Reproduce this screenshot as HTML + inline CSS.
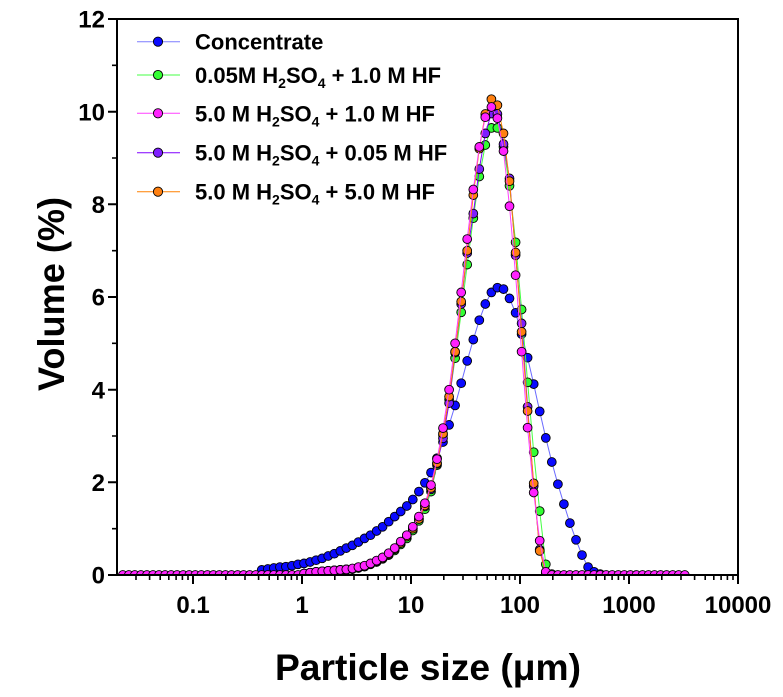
<!DOCTYPE html>
<html><head><meta charset="utf-8">
<style>
html,body{margin:0;padding:0;background:#fff;}
svg{display:block;}
text{font-family:"Liberation Sans",Arial,sans-serif;font-weight:bold;fill:#000;}
</style></head>
<body>
<svg width="783" height="697" viewBox="0 0 783 697" xmlns="http://www.w3.org/2000/svg">
<defs><clipPath id="c"><rect x="117" y="19" width="621" height="556"/></clipPath></defs>
<rect x="0" y="0" width="783" height="697" fill="#fff"/>
<g clip-path="url(#c)">
<!-- Concentrate -->
<polyline fill="none" stroke="#6a6aff" stroke-width="1" points="122.8,575 255.7,575 261.7,569.9 267.8,569.0 273.8,568.0 279.9,567.1 285.9,566.7 292.0,565.7 298.0,564.3 304.0,563.4 310.1,562.0 316.1,560.2 322.2,558.3 328.2,556.0 334.3,553.7 340.3,550.9 346.3,548.1 352.4,545.3 358.4,542.1 364.5,538.4 370.5,535.2 376.6,531.0 382.6,526.8 388.7,521.7 394.7,516.6 400.7,511.5 406.8,506.0 412.8,499.5 418.9,491.6 424.9,482.8 431.0,472.6 437.0,458.2 443.0,442.0 449.1,424.9 455.1,405.4 461.2,383.2 467.2,360.9 473.3,339.6 479.3,320.2 485.3,304.0 491.4,292.4 497.4,287.7 503.5,289.1 509.5,298.4 515.6,312.8 521.6,334.1 527.6,357.7 533.7,384.1 539.7,411.4 545.8,437.9 551.8,462.0 557.9,484.2 563.9,504.1 569.9,523.1 576.0,539.8 582.0,555.1 588.1,567.1 594.1,571.8 600.2,574.1 606.2,575 684.8,575"/>
<g fill="#0a0aff" stroke="#000" stroke-width="0.9">
<circle cx="261.7" cy="569.9" r="4.4"/><circle cx="267.8" cy="569.0" r="4.4"/><circle cx="273.8" cy="568.0" r="4.4"/><circle cx="279.9" cy="567.1" r="4.4"/><circle cx="285.9" cy="566.7" r="4.4"/><circle cx="292.0" cy="565.7" r="4.4"/><circle cx="298.0" cy="564.3" r="4.4"/><circle cx="304.0" cy="563.4" r="4.4"/><circle cx="310.1" cy="562.0" r="4.4"/><circle cx="316.1" cy="560.2" r="4.4"/><circle cx="322.2" cy="558.3" r="4.4"/><circle cx="328.2" cy="556.0" r="4.4"/><circle cx="334.3" cy="553.7" r="4.4"/><circle cx="340.3" cy="550.9" r="4.4"/><circle cx="346.3" cy="548.1" r="4.4"/><circle cx="352.4" cy="545.3" r="4.4"/><circle cx="358.4" cy="542.1" r="4.4"/><circle cx="364.5" cy="538.4" r="4.4"/><circle cx="370.5" cy="535.2" r="4.4"/><circle cx="376.6" cy="531.0" r="4.4"/><circle cx="382.6" cy="526.8" r="4.4"/><circle cx="388.7" cy="521.7" r="4.4"/><circle cx="394.7" cy="516.6" r="4.4"/><circle cx="400.7" cy="511.5" r="4.4"/><circle cx="406.8" cy="506.0" r="4.4"/><circle cx="412.8" cy="499.5" r="4.4"/><circle cx="418.9" cy="491.6" r="4.4"/><circle cx="424.9" cy="482.8" r="4.4"/><circle cx="431.0" cy="472.6" r="4.4"/><circle cx="437.0" cy="458.2" r="4.4"/><circle cx="443.0" cy="442.0" r="4.4"/><circle cx="449.1" cy="424.9" r="4.4"/><circle cx="455.1" cy="405.4" r="4.4"/><circle cx="461.2" cy="383.2" r="4.4"/><circle cx="467.2" cy="360.9" r="4.4"/><circle cx="473.3" cy="339.6" r="4.4"/><circle cx="479.3" cy="320.2" r="4.4"/><circle cx="485.3" cy="304.0" r="4.4"/><circle cx="491.4" cy="292.4" r="4.4"/><circle cx="497.4" cy="287.7" r="4.4"/><circle cx="503.5" cy="289.1" r="4.4"/><circle cx="509.5" cy="298.4" r="4.4"/><circle cx="515.6" cy="312.8" r="4.4"/><circle cx="521.6" cy="334.1" r="4.4"/><circle cx="527.6" cy="357.7" r="4.4"/><circle cx="533.7" cy="384.1" r="4.4"/><circle cx="539.7" cy="411.4" r="4.4"/><circle cx="545.8" cy="437.9" r="4.4"/><circle cx="551.8" cy="462.0" r="4.4"/><circle cx="557.9" cy="484.2" r="4.4"/><circle cx="563.9" cy="504.1" r="4.4"/><circle cx="569.9" cy="523.1" r="4.4"/><circle cx="576.0" cy="539.8" r="4.4"/><circle cx="582.0" cy="555.1" r="4.4"/><circle cx="588.1" cy="567.1" r="4.4"/><circle cx="594.1" cy="571.8" r="4.4"/><circle cx="600.2" cy="574.1" r="4.4"/>
</g>
<!-- 0.05M H2SO4 + 1.0 M HF (green) -->
<polyline fill="none" stroke="#44ff44" stroke-width="1" points="122.8,575 298.0,575 304.0,573.6 310.1,573.1 316.1,572.2 322.2,571.8 328.2,571.3 334.3,570.8 340.3,570.4 346.3,569.9 352.4,569.0 358.4,568.0 364.5,566.7 370.5,564.3 376.6,562.0 382.6,558.8 388.7,555.1 394.7,550.4 400.7,544.4 406.8,538.4 412.8,530.5 418.9,520.8 424.9,509.2 431.0,491.6 437.0,465.2 443.0,435.1 449.1,399.4 455.1,358.2 461.2,312.3 467.2,264.6 473.3,218.2 479.3,176.5 485.3,145.0 491.4,127.9 497.4,127.9 503.5,146.9 509.5,185.8 515.6,242.3 521.6,309.5 527.6,382.3 533.7,452.2 539.7,511.1 545.8,564.3 551.8,574.1 557.9,575 684.8,575"/>
<g fill="#33ff33" stroke="#000" stroke-width="0.9">
<circle cx="304.0" cy="573.6" r="4.4"/><circle cx="310.1" cy="573.1" r="4.4"/><circle cx="316.1" cy="572.2" r="4.4"/><circle cx="322.2" cy="571.8" r="4.4"/><circle cx="328.2" cy="571.3" r="4.4"/><circle cx="334.3" cy="570.8" r="4.4"/><circle cx="340.3" cy="570.4" r="4.4"/><circle cx="346.3" cy="569.9" r="4.4"/><circle cx="352.4" cy="569.0" r="4.4"/><circle cx="358.4" cy="568.0" r="4.4"/><circle cx="364.5" cy="566.7" r="4.4"/><circle cx="370.5" cy="564.3" r="4.4"/><circle cx="376.6" cy="562.0" r="4.4"/><circle cx="382.6" cy="558.8" r="4.4"/><circle cx="388.7" cy="555.1" r="4.4"/><circle cx="394.7" cy="550.4" r="4.4"/><circle cx="400.7" cy="544.4" r="4.4"/><circle cx="406.8" cy="538.4" r="4.4"/><circle cx="412.8" cy="530.5" r="4.4"/><circle cx="418.9" cy="520.8" r="4.4"/><circle cx="424.9" cy="509.2" r="4.4"/><circle cx="431.0" cy="491.6" r="4.4"/><circle cx="437.0" cy="465.2" r="4.4"/><circle cx="443.0" cy="435.1" r="4.4"/><circle cx="449.1" cy="399.4" r="4.4"/><circle cx="455.1" cy="358.2" r="4.4"/><circle cx="461.2" cy="312.3" r="4.4"/><circle cx="467.2" cy="264.6" r="4.4"/><circle cx="473.3" cy="218.2" r="4.4"/><circle cx="479.3" cy="176.5" r="4.4"/><circle cx="485.3" cy="145.0" r="4.4"/><circle cx="491.4" cy="127.9" r="4.4"/><circle cx="497.4" cy="127.9" r="4.4"/><circle cx="503.5" cy="146.9" r="4.4"/><circle cx="509.5" cy="185.8" r="4.4"/><circle cx="515.6" cy="242.3" r="4.4"/><circle cx="521.6" cy="309.5" r="4.4"/><circle cx="527.6" cy="382.3" r="4.4"/><circle cx="533.7" cy="452.2" r="4.4"/><circle cx="539.7" cy="511.1" r="4.4"/><circle cx="545.8" cy="564.3" r="4.4"/><circle cx="551.8" cy="574.1" r="4.4"/>
</g>
<!-- 5.0 M H2SO4 + 0.05 M HF (purple) -->
<polyline fill="none" stroke="#8000ff" stroke-width="1" points="122.8,575 298.0,575 304.0,573.6 310.1,572.7 316.1,571.8 322.2,571.3 328.2,570.8 334.3,570.4 340.3,569.9 346.3,569.4 352.4,569.0 358.4,567.6 364.5,566.2 370.5,563.9 376.6,561.1 382.6,558.3 388.7,554.2 394.7,549.1 400.7,543.0 406.8,536.5 412.8,528.7 418.9,518.9 424.9,506.4 431.0,489.3 437.0,463.8 443.0,438.3 449.1,403.1 455.1,352.6 461.2,304.0 467.2,253.0 473.3,213.6 479.3,169.1 485.3,133.4 491.4,113.5 497.4,114.0 503.5,144.1 509.5,178.4 515.6,255.3 521.6,323.4 527.6,406.8 533.7,486.0 539.7,549.5 545.8,572.7 551.8,575 684.8,575"/>
<g fill="#7f1fff" stroke="#000" stroke-width="0.9">
<circle cx="304.0" cy="573.6" r="4.4"/><circle cx="310.1" cy="572.7" r="4.4"/><circle cx="316.1" cy="571.8" r="4.4"/><circle cx="322.2" cy="571.3" r="4.4"/><circle cx="328.2" cy="570.8" r="4.4"/><circle cx="334.3" cy="570.4" r="4.4"/><circle cx="340.3" cy="569.9" r="4.4"/><circle cx="346.3" cy="569.4" r="4.4"/><circle cx="352.4" cy="569.0" r="4.4"/><circle cx="358.4" cy="567.6" r="4.4"/><circle cx="364.5" cy="566.2" r="4.4"/><circle cx="370.5" cy="563.9" r="4.4"/><circle cx="376.6" cy="561.1" r="4.4"/><circle cx="382.6" cy="558.3" r="4.4"/><circle cx="388.7" cy="554.2" r="4.4"/><circle cx="394.7" cy="549.1" r="4.4"/><circle cx="400.7" cy="543.0" r="4.4"/><circle cx="406.8" cy="536.5" r="4.4"/><circle cx="412.8" cy="528.7" r="4.4"/><circle cx="418.9" cy="518.9" r="4.4"/><circle cx="424.9" cy="506.4" r="4.4"/><circle cx="431.0" cy="489.3" r="4.4"/><circle cx="437.0" cy="463.8" r="4.4"/><circle cx="443.0" cy="438.3" r="4.4"/><circle cx="449.1" cy="403.1" r="4.4"/><circle cx="455.1" cy="352.6" r="4.4"/><circle cx="461.2" cy="304.0" r="4.4"/><circle cx="467.2" cy="253.0" r="4.4"/><circle cx="473.3" cy="213.6" r="4.4"/><circle cx="479.3" cy="169.1" r="4.4"/><circle cx="485.3" cy="133.4" r="4.4"/><circle cx="491.4" cy="113.5" r="4.4"/><circle cx="497.4" cy="114.0" r="4.4"/><circle cx="503.5" cy="144.1" r="4.4"/><circle cx="509.5" cy="178.4" r="4.4"/><circle cx="515.6" cy="255.3" r="4.4"/><circle cx="521.6" cy="323.4" r="4.4"/><circle cx="527.6" cy="406.8" r="4.4"/><circle cx="533.7" cy="486.0" r="4.4"/><circle cx="539.7" cy="549.5" r="4.4"/><circle cx="545.8" cy="572.7" r="4.4"/>
</g>
<!-- 5.0 M H2SO4 + 5.0 M HF (orange) -->
<polyline fill="none" stroke="#ff8000" stroke-width="1" points="122.8,575 298.0,575 304.0,573.6 310.1,572.7 316.1,571.8 322.2,571.3 328.2,570.8 334.3,570.4 340.3,569.9 346.3,569.4 352.4,569.0 358.4,567.6 364.5,566.2 370.5,563.9 376.6,561.1 382.6,558.3 388.7,554.2 394.7,549.1 400.7,543.0 406.8,536.5 412.8,528.7 418.9,518.9 424.9,505.5 431.0,487.9 437.0,462.9 443.0,433.7 449.1,396.6 455.1,351.7 461.2,301.6 467.2,250.7 473.3,195.1 479.3,148.7 485.3,114.0 491.4,99.2 497.4,105.2 503.5,133.4 509.5,181.2 515.6,252.5 521.6,331.8 527.6,411.0 533.7,483.3 539.7,550.9 545.8,572.7 551.8,575 684.8,575"/>
<g fill="#ff8010" stroke="#000" stroke-width="0.9">
<circle cx="304.0" cy="573.6" r="4.4"/><circle cx="310.1" cy="572.7" r="4.4"/><circle cx="316.1" cy="571.8" r="4.4"/><circle cx="322.2" cy="571.3" r="4.4"/><circle cx="328.2" cy="570.8" r="4.4"/><circle cx="334.3" cy="570.4" r="4.4"/><circle cx="340.3" cy="569.9" r="4.4"/><circle cx="346.3" cy="569.4" r="4.4"/><circle cx="352.4" cy="569.0" r="4.4"/><circle cx="358.4" cy="567.6" r="4.4"/><circle cx="364.5" cy="566.2" r="4.4"/><circle cx="370.5" cy="563.9" r="4.4"/><circle cx="376.6" cy="561.1" r="4.4"/><circle cx="382.6" cy="558.3" r="4.4"/><circle cx="388.7" cy="554.2" r="4.4"/><circle cx="394.7" cy="549.1" r="4.4"/><circle cx="400.7" cy="543.0" r="4.4"/><circle cx="406.8" cy="536.5" r="4.4"/><circle cx="412.8" cy="528.7" r="4.4"/><circle cx="418.9" cy="518.9" r="4.4"/><circle cx="424.9" cy="505.5" r="4.4"/><circle cx="431.0" cy="487.9" r="4.4"/><circle cx="437.0" cy="462.9" r="4.4"/><circle cx="443.0" cy="433.7" r="4.4"/><circle cx="449.1" cy="396.6" r="4.4"/><circle cx="455.1" cy="351.7" r="4.4"/><circle cx="461.2" cy="301.6" r="4.4"/><circle cx="467.2" cy="250.7" r="4.4"/><circle cx="473.3" cy="195.1" r="4.4"/><circle cx="479.3" cy="148.7" r="4.4"/><circle cx="485.3" cy="114.0" r="4.4"/><circle cx="491.4" cy="99.2" r="4.4"/><circle cx="497.4" cy="105.2" r="4.4"/><circle cx="503.5" cy="133.4" r="4.4"/><circle cx="509.5" cy="181.2" r="4.4"/><circle cx="515.6" cy="252.5" r="4.4"/><circle cx="521.6" cy="331.8" r="4.4"/><circle cx="527.6" cy="411.0" r="4.4"/><circle cx="533.7" cy="483.3" r="4.4"/><circle cx="539.7" cy="550.9" r="4.4"/><circle cx="545.8" cy="572.7" r="4.4"/>
</g>
<!-- 5.0 M H2SO4 + 1.0 M HF (magenta) -->
<polyline fill="none" stroke="#ff40ff" stroke-width="1" points="122.8,575 298.0,575 304.0,573.6 310.1,572.7 316.1,571.8 322.2,571.3 328.2,570.8 334.3,570.4 340.3,569.9 346.3,569.4 352.4,568.5 358.4,567.1 364.5,565.7 370.5,563.4 376.6,560.6 382.6,557.4 388.7,553.2 394.7,548.1 400.7,541.6 406.8,535.2 412.8,526.8 418.9,516.6 424.9,503.2 431.0,485.1 437.0,459.2 443.0,428.1 449.1,389.7 455.1,343.3 461.2,292.4 467.2,239.1 473.3,189.5 479.3,146.9 485.3,117.2 491.4,107.0 497.4,118.2 503.5,151.1 509.5,206.2 515.6,275.2 521.6,351.7 527.6,427.7 533.7,492.5 539.7,540.7 545.8,571.8 551.8,575 684.8,575"/>
<g fill="#ff22ff" stroke="#000" stroke-width="0.9">
<circle cx="122.8" cy="575" r="4.4"/><circle cx="128.8" cy="575" r="4.4"/><circle cx="134.8" cy="575" r="4.4"/><circle cx="140.9" cy="575" r="4.4"/><circle cx="146.9" cy="575" r="4.4"/><circle cx="153.0" cy="575" r="4.4"/><circle cx="159.0" cy="575" r="4.4"/><circle cx="165.1" cy="575" r="4.4"/><circle cx="171.1" cy="575" r="4.4"/><circle cx="177.1" cy="575" r="4.4"/><circle cx="183.2" cy="575" r="4.4"/><circle cx="189.2" cy="575" r="4.4"/><circle cx="195.3" cy="575" r="4.4"/><circle cx="201.3" cy="575" r="4.4"/><circle cx="207.4" cy="575" r="4.4"/><circle cx="213.4" cy="575" r="4.4"/><circle cx="219.4" cy="575" r="4.4"/><circle cx="225.5" cy="575" r="4.4"/><circle cx="231.5" cy="575" r="4.4"/><circle cx="237.6" cy="575" r="4.4"/><circle cx="243.6" cy="575" r="4.4"/><circle cx="249.7" cy="575" r="4.4"/><circle cx="255.7" cy="575" r="4.4"/><circle cx="261.7" cy="575" r="4.4"/><circle cx="267.8" cy="575" r="4.4"/><circle cx="273.8" cy="575" r="4.4"/><circle cx="279.9" cy="575" r="4.4"/><circle cx="285.9" cy="575" r="4.4"/><circle cx="292.0" cy="575" r="4.4"/><circle cx="298.0" cy="575" r="4.4"/>
<circle cx="304.0" cy="573.6" r="4.4"/><circle cx="310.1" cy="572.7" r="4.4"/><circle cx="316.1" cy="571.8" r="4.4"/><circle cx="322.2" cy="571.3" r="4.4"/><circle cx="328.2" cy="570.8" r="4.4"/><circle cx="334.3" cy="570.4" r="4.4"/><circle cx="340.3" cy="569.9" r="4.4"/><circle cx="346.3" cy="569.4" r="4.4"/><circle cx="352.4" cy="568.5" r="4.4"/><circle cx="358.4" cy="567.1" r="4.4"/><circle cx="364.5" cy="565.7" r="4.4"/><circle cx="370.5" cy="563.4" r="4.4"/><circle cx="376.6" cy="560.6" r="4.4"/><circle cx="382.6" cy="557.4" r="4.4"/><circle cx="388.7" cy="553.2" r="4.4"/><circle cx="394.7" cy="548.1" r="4.4"/><circle cx="400.7" cy="541.6" r="4.4"/><circle cx="406.8" cy="535.2" r="4.4"/><circle cx="412.8" cy="526.8" r="4.4"/><circle cx="418.9" cy="516.6" r="4.4"/><circle cx="424.9" cy="503.2" r="4.4"/><circle cx="431.0" cy="485.1" r="4.4"/><circle cx="437.0" cy="459.2" r="4.4"/><circle cx="443.0" cy="428.1" r="4.4"/><circle cx="449.1" cy="389.7" r="4.4"/><circle cx="455.1" cy="343.3" r="4.4"/><circle cx="461.2" cy="292.4" r="4.4"/><circle cx="467.2" cy="239.1" r="4.4"/><circle cx="473.3" cy="189.5" r="4.4"/><circle cx="479.3" cy="146.9" r="4.4"/><circle cx="485.3" cy="117.2" r="4.4"/><circle cx="491.4" cy="107.0" r="4.4"/><circle cx="497.4" cy="118.2" r="4.4"/><circle cx="503.5" cy="151.1" r="4.4"/><circle cx="509.5" cy="206.2" r="4.4"/><circle cx="515.6" cy="275.2" r="4.4"/><circle cx="521.6" cy="351.7" r="4.4"/><circle cx="527.6" cy="427.7" r="4.4"/><circle cx="533.7" cy="492.5" r="4.4"/><circle cx="539.7" cy="540.7" r="4.4"/><circle cx="545.8" cy="571.8" r="4.4"/>
<circle cx="551.8" cy="575" r="4.4"/><circle cx="557.9" cy="575" r="4.4"/><circle cx="563.9" cy="575" r="4.4"/><circle cx="569.9" cy="575" r="4.4"/><circle cx="576.0" cy="575" r="4.4"/><circle cx="582.0" cy="575" r="4.4"/><circle cx="588.1" cy="575" r="4.4"/><circle cx="594.1" cy="575" r="4.4"/><circle cx="600.2" cy="575" r="4.4"/><circle cx="606.2" cy="575" r="4.4"/><circle cx="612.2" cy="575" r="4.4"/><circle cx="618.3" cy="575" r="4.4"/><circle cx="624.3" cy="575" r="4.4"/><circle cx="630.4" cy="575" r="4.4"/><circle cx="636.4" cy="575" r="4.4"/><circle cx="642.5" cy="575" r="4.4"/><circle cx="648.5" cy="575" r="4.4"/><circle cx="654.5" cy="575" r="4.4"/><circle cx="660.6" cy="575" r="4.4"/><circle cx="666.6" cy="575" r="4.4"/><circle cx="672.7" cy="575" r="4.4"/><circle cx="678.7" cy="575" r="4.4"/><circle cx="684.8" cy="575" r="4.4"/>
</g>
</g>

<!-- frame -->
<rect x="117" y="19" width="621" height="556" fill="none" stroke="#000" stroke-width="2"/>
<!-- ticks -->
<path stroke="#000" stroke-width="2" fill="none" d="M108 575H117M108 482.3H117M108 389.7H117M108 297H117M108 204.3H117M108 111.7H117M108 19H117
M193 575V584M302 575V584M411 575V584M520 575V584M629 575V584M738 575V584"/>
<path stroke="#000" stroke-width="1.6" fill="none" d="M112 528.7H117M112 436H117M112 343.3H117M112 250.7H117M112 158H117M112 65.3H117
M136 575V580M149.6 575V580M160.2 575V580M168.8 575V580M176.1 575V580M182.4 575V580M188 575V580
M225.8 575V580M245 575V580M258.6 575V580M269.2 575V580M277.8 575V580M285.1 575V580M291.4 575V580M297 575V580
M334.8 575V580M354 575V580M367.6 575V580M378.2 575V580M386.8 575V580M394.1 575V580M400.4 575V580M406 575V580
M443.8 575V580M463 575V580M476.6 575V580M487.2 575V580M495.8 575V580M503.1 575V580M509.4 575V580M515 575V580
M552.8 575V580M572 575V580M585.6 575V580M596.2 575V580M604.8 575V580M612.1 575V580M618.4 575V580M624 575V580
M661.8 575V580M681 575V580M694.6 575V580M705.2 575V580M713.8 575V580M721.1 575V580M727.4 575V580M733 575V580"/>

<!-- y tick labels -->
<g font-size="24" text-anchor="end">
<text x="105" y="583.6">0</text>
<text x="105" y="490.9">2</text>
<text x="105" y="398.3">4</text>
<text x="105" y="305.6">6</text>
<text x="105" y="212.9">8</text>
<text x="105" y="120.3">10</text>
<text x="105" y="27.6">12</text>
</g>
<!-- x tick labels -->
<g font-size="24" text-anchor="middle">
<text x="193" y="613">0.1</text>
<text x="302" y="613">1</text>
<text x="411" y="613">10</text>
<text x="520" y="613">100</text>
<text x="629" y="613">1000</text>
<text x="738" y="613">10000</text>
</g>

<!-- axis titles -->
<text x="428" y="680" font-size="37" text-anchor="middle" textLength="306" lengthAdjust="spacingAndGlyphs">Particle size (μm)</text>
<text transform="translate(64,294) rotate(-90)" x="0" y="0" font-size="37" text-anchor="middle" textLength="194" lengthAdjust="spacingAndGlyphs">Volume (%)</text>

<!-- legend -->
<g stroke-width="1">
<line x1="137" y1="41.7" x2="180" y2="41.7" stroke="#7d7dff"/>
<line x1="137" y1="75" x2="180" y2="75" stroke="#44ff44"/>
<line x1="137" y1="113.3" x2="180" y2="113.3" stroke="#ff40ff"/>
<line x1="137" y1="152.7" x2="180" y2="152.7" stroke="#8000ff"/>
<line x1="137" y1="191.7" x2="180" y2="191.7" stroke="#ff8000"/>
</g>
<g stroke="#000" stroke-width="0.9">
<circle cx="158" cy="41.7" r="4.6" fill="#0a0aff"/>
<circle cx="158" cy="75" r="4.6" fill="#33ff33"/>
<circle cx="158" cy="113.3" r="4.6" fill="#ff22ff"/>
<circle cx="158" cy="152.7" r="4.6" fill="#7f1fff"/>
<circle cx="158" cy="191.7" r="4.6" fill="#ff8010"/>
</g>
<g font-size="22">
<text x="195" y="49.6">Concentrate</text>
<text x="195" y="83">0.05M H<tspan font-size="14" dy="5">2</tspan><tspan dy="-5">SO</tspan><tspan font-size="14" dy="5">4</tspan><tspan dy="-5"> + 1.0 M HF</tspan></text>
<text x="195" y="121.3">5.0 M H<tspan font-size="14" dy="5">2</tspan><tspan dy="-5">SO</tspan><tspan font-size="14" dy="5">4</tspan><tspan dy="-5"> + 1.0 M HF</tspan></text>
<text x="195" y="160.7">5.0 M H<tspan font-size="14" dy="5">2</tspan><tspan dy="-5">SO</tspan><tspan font-size="14" dy="5">4</tspan><tspan dy="-5"> + 0.05 M HF</tspan></text>
<text x="195" y="199.7">5.0 M H<tspan font-size="14" dy="5">2</tspan><tspan dy="-5">SO</tspan><tspan font-size="14" dy="5">4</tspan><tspan dy="-5"> + 5.0 M HF</tspan></text>
</g>
</svg>
</body></html>
